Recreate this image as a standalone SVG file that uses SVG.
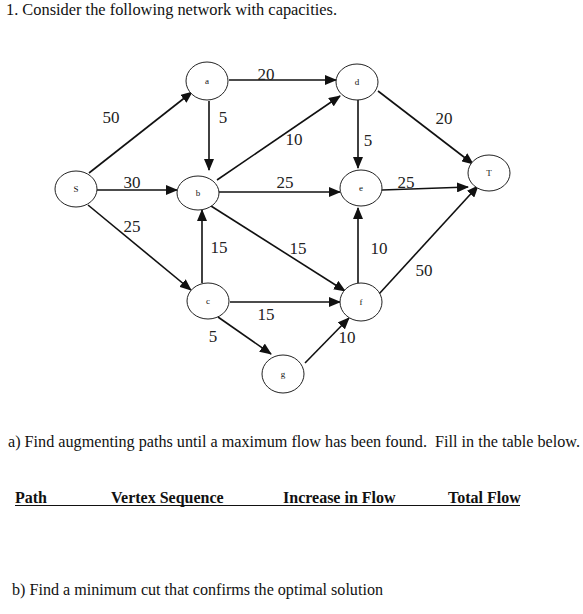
<svg xmlns="http://www.w3.org/2000/svg" width="583" height="614" viewBox="0 0 583 614">
<style>
text{font-family:'Liberation Serif','Times New Roman','DejaVu Serif',serif}
.t{font-size:16.3px;fill:#111}
.n{font-size:9px;fill:#111;text-anchor:middle}
.l{font-size:17px;fill:#222;text-anchor:middle}
.h{font-size:16px;font-weight:bold;fill:#111}
ellipse{fill:#fff;stroke:#222;stroke-width:1}
.e line{stroke:#111;stroke-width:1.6;marker-end:url(#ar)}
</style>
<defs>
<marker id="ar" markerUnits="userSpaceOnUse" markerWidth="12" markerHeight="10" refX="11" refY="5" orient="auto">
<path d="M0,0 L12,5 L0,10 z" fill="#111"/>
</marker>
</defs>
<rect width="583" height="614" fill="#fff"/>
<text class="t" x="6" y="15" textLength="331" lengthAdjust="spacingAndGlyphs">1. Consider the following network with capacities.</text>
<g class="e" id="connectors">
<line x1="89" y1="173" x2="192" y2="92"/>
<line x1="97" y1="190" x2="177" y2="190"/>
<line x1="88" y1="205" x2="191" y2="290"/>
<line x1="209" y1="101" x2="209" y2="170"/>
<line x1="229" y1="80" x2="336" y2="80"/>
<line x1="217" y1="180" x2="340" y2="96"/>
<line x1="219" y1="192" x2="340" y2="192"/>
<line x1="211" y1="206" x2="345" y2="291"/>
<line x1="202" y1="283" x2="202" y2="210"/>
<line x1="358" y1="100" x2="358" y2="168"/>
<line x1="378" y1="91" x2="473" y2="164"/>
<line x1="382" y1="190" x2="468" y2="187"/>
<line x1="358" y1="283" x2="358" y2="208"/>
<line x1="379" y1="294" x2="478" y2="186"/>
<line x1="230" y1="302" x2="340" y2="302"/>
<line x1="218" y1="317" x2="271" y2="354"/>
<line x1="305" y1="363" x2="349" y2="318"/>
</g>
<g id="labels">
<text class="l" x="111" y="123">50</text>
<text class="l" x="132" y="188">30</text>
<text class="l" x="132" y="232">25</text>
<text class="l" x="223" y="123">5</text>
<text class="l" x="266" y="80">20</text>
<text class="l" x="294" y="145">10</text>
<text class="l" x="285" y="188">25</text>
<text class="l" x="298" y="254">15</text>
<text class="l" x="219" y="253">15</text>
<text class="l" x="368" y="146">5</text>
<text class="l" x="444" y="124">20</text>
<text class="l" x="406" y="188">25</text>
<text class="l" x="379" y="254">10</text>
<text class="l" x="424" y="276">50</text>
<text class="l" x="266" y="320">15</text>
<text class="l" x="213" y="342">5</text>
<text class="l" x="347" y="343">10</text>
</g>
<g id="S"><ellipse cx="76" cy="189" rx="21" ry="18"/><text class="n" x="76" y="192">S</text></g>
<g id="a"><ellipse cx="207" cy="81" rx="21" ry="19"/><text class="n" x="207" y="84">a</text></g>
<g id="b"><ellipse cx="198" cy="193" rx="21" ry="17"/><text class="n" x="198" y="196">b</text></g>
<g id="d"><ellipse cx="357" cy="82" rx="21" ry="18"/><text class="n" x="357" y="85">d</text></g>
<g id="e"><ellipse cx="361" cy="188" rx="21" ry="18"/><text class="n" x="361" y="191">e</text></g>
<g id="T"><ellipse cx="489" cy="173" rx="21" ry="18"/><text class="n" x="489" y="176">T</text></g>
<g id="c"><ellipse cx="208" cy="301" rx="21" ry="18"/><text class="n" x="208" y="304">c</text></g>
<g id="f"><ellipse cx="361" cy="302" rx="21" ry="19"/><text class="n" x="361" y="305">f</text></g>
<g id="g"><ellipse cx="283" cy="374" rx="21" ry="19"/><text class="n" x="283" y="377">g</text></g>
<text class="t" x="8" y="447" xml:space="preserve" textLength="572" lengthAdjust="spacingAndGlyphs">a) Find augmenting paths until a maximum flow has been found.  Fill in the table below.</text>
<g id="table-header">
<text class="h" x="15" y="503">Path</text>
<text class="h" x="111" y="503">Vertex Sequence</text>
<text class="h" x="283" y="503">Increase in Flow</text>
<text class="h" x="448" y="503">Total Flow</text>
<line x1="15" y1="505.5" x2="520" y2="505.5" stroke="#111" stroke-width="1"/>
</g>
<text class="t" x="12" y="595" textLength="371" lengthAdjust="spacingAndGlyphs">b) Find a minimum cut that confirms the optimal solution</text>
</svg>
